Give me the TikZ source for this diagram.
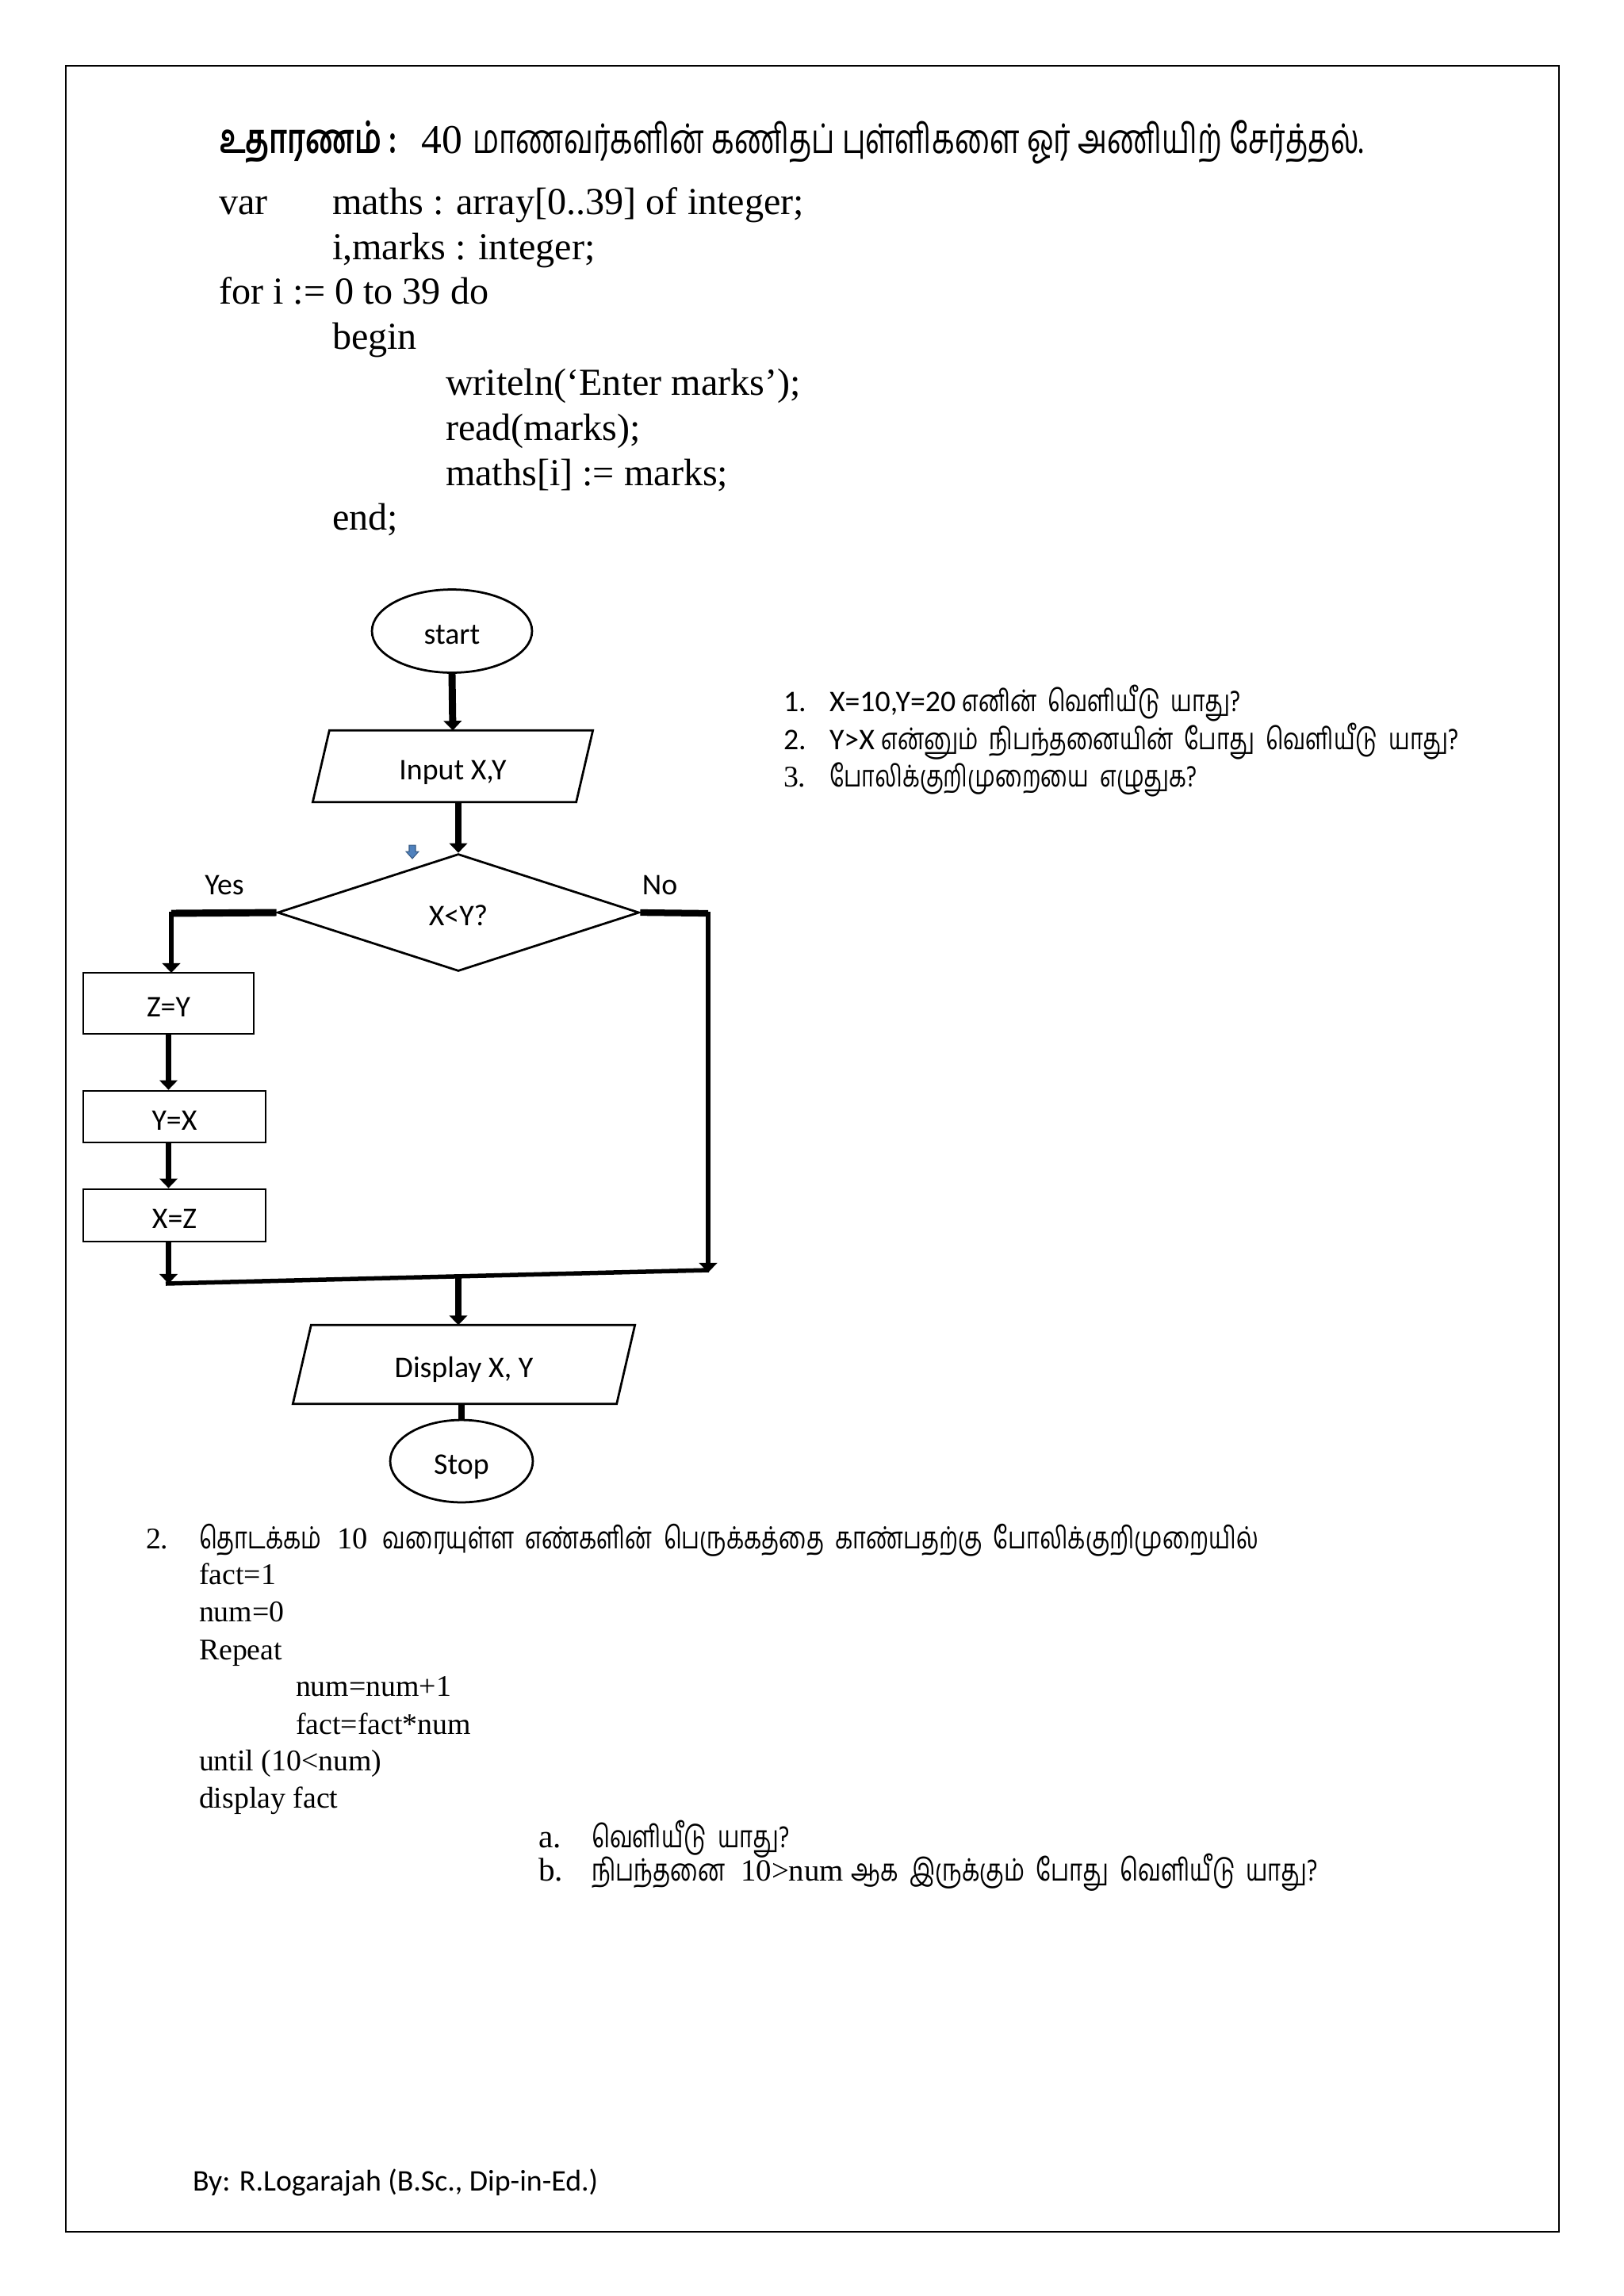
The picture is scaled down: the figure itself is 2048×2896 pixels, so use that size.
\documentclass[tikz,border=0pt]{standalone}
\usepackage{fontspec}
\setmainfont{Liberation Serif}
\newfontfamily\calfont{Carlito}
\newfontfamily\tamil[Script=Tamil, FakeStretch=0.75]{Hind Madurai}
\newfontfamily\tamiltitle[Script=Tamil, FakeStretch=0.72]{Hind Madurai}
\usetikzlibrary{shapes.geometric,arrows.meta,calc}
\definecolor{bluearr}{RGB}{79,129,189}
\begin{document}
\begin{tikzpicture}[x=0.2907pt,y=-0.2907pt,
  txt/.style={anchor=base west, inner sep=0pt, outer sep=0pt},
  code/.style={txt, font=\fontsize{14}{16}\selectfont},
  body/.style={txt, font=\fontsize{11}{13}\selectfont},
  cal/.style={txt, font=\calfont\fontsize{11}{13}\selectfont},
  fbox/.style={draw, line width=0.8pt, font=\calfont\fontsize{11}{13}\selectfont, inner sep=0pt, text height=9.6pt, text depth=0pt},
  term/.style={fbox, ellipse},
  proc/.style={fbox, rectangle},
  para/.style={inner sep=0pt, font=\calfont\fontsize{11}{13}\selectfont, text height=9.6pt, text depth=0pt},
  conn/.style={line width=2.6pt, -{Triangle[length=3.5pt,width=6.5pt]}},
  thin/.style={line width=2pt, -{Triangle[length=3.5pt,width=6.5pt]}},
  flow/.style={line width=2.2pt, line join=miter},
]
\useasboundingbox (0,0) rectangle (2048,2896);
\draw[line width=0.6pt] (83,83) rectangle (1966,2815);

% title
\node[txt, font=\fontsize{15}{17}\selectfont] (title) at (277,193)
  {{\tamiltitle\bfseries உதாரணம் :}\hspace{9pt}40 {\tamiltitle மாணவர்களின் கணிதப் புள்ளிகளை ஓர் அணியிற் சேர்த்தல்.}};

% code block
\node[code] (c1a) at (276,270) {var};
\node[code] (c1b) at (419,270) {maths : array[0..39] of integer;};
\node[code] (c2) at (419,327) {i,marks : integer;};
\node[code] (c3) at (276,383) {for i := 0 to 39 do};
\node[code] (c4) at (419,440) {begin};
\node[code] (c5) at (562,498) {writeln(‘Enter marks’);};
\node[code] (c6) at (562,555) {read(marks);};
\node[code] (c7) at (562,612) {maths[i] := marks;};
\node[code] (c8) at (419,668) {end;};

% flowchart
\node[term, minimum width=58.7pt, minimum height=30.5pt] (start) at (570,796) {start};
\node[para, minimum width=102.3pt, minimum height=25.9pt] (inp) at (571,966.5) {Input X,Y};
\draw[line width=0.8pt] ($(inp.north west)+(21,0)$) -- (inp.north east) -- ($(inp.south east)-(21,0)$) -- (inp.south west) -- cycle;
\node[fbox, diamond, minimum width=132.6pt, minimum height=43pt] (dia) at (578,1151) {X<Y?};
\node[proc, minimum width=62.5pt, minimum height=22.4pt] (zy) at (212.5,1265.5) {Z=Y};
\node[proc, minimum width=66.9pt, minimum height=18.9pt] (yx) at (220,1408.5) {Y=X};
\node[proc, minimum width=66.9pt, minimum height=19.2pt] (xz) at (220,1533) {X=Z};
\node[para, minimum width=125pt, minimum height=28.5pt] (disp) at (585,1721) {Display X, Y};
\draw[line width=0.8pt] ($(disp.north west)+(23,0)$) -- (disp.north east) -- ($(disp.south east)-(23,0)$) -- (disp.south west) -- cycle;
\node[term, minimum width=52.3pt, minimum height=30.2pt] (stop) at (582,1843) {Stop};

\node[txt, font=\calfont\fontsize{11}{13}\selectfont, anchor=base] (yes) at (283,1128) {Yes};
\node[txt, font=\calfont\fontsize{11}{13}\selectfont, anchor=base] (no) at (832,1128) {No};

\coordinate (nc) at (893,1152);
\coordinate (ne) at (893,1605);
\coordinate (mL) at (209,1619);
\coordinate (mR) at (894,1602);
\coordinate (mM) at (578,1611);

\draw[conn] (start.south) -- (inp.north);
\draw[conn] (dia.north |- inp.south) -- (dia.north);
\draw[flow, line width=2.6pt] (dia.west) -- (216,1152);
\draw[thin] (216,1150) -- (216,1227);
\draw[flow, line width=2.4pt] (dia.east) -- (nc);
\draw[thin] ($(nc)+(0,-2)$) -- (ne);
\draw[thin] (zy.south) -- (zy.south |- yx.north);
\draw[thin] (zy.south |- yx.south) -- (zy.south |- xz.north);
\draw[thin] (zy.south |- xz.south) -- (mL -| zy.south);
\draw[line width=1.6pt] (mL) -- (mR);
\draw[conn] (mM) -- (mM |- disp.north);
\draw[line width=2.6pt] (disp.south -| stop.north) -- (stop.north);

% small blue marker
\draw[fill=bluearr, draw=bluearr!70!black, line width=0.3pt]
  (516,1066) -- (524,1066) -- (524,1074) -- (528,1074) -- (520,1083) -- (512,1074) -- (516,1074) -- cycle;

% questions right
\node[cal] (q1n) at (988,897) {1.};
\node[cal] (q1) at (1046,897) {X=10,Y=20 {\tamil எனின்\ \ வெளியீடு\ \ யாது?}};
\node[cal] (q2n) at (988,945) {2.};
\node[cal] (q2) at (1046,945) {Y>X {\tamil என்னும்\ \ நிபந்தனையின்\ \ போது\ \ வெளியீடு\ \ யாது?}};
\node[txt, font=\fontsize{11}{13}\selectfont] (q3n) at (988,992) {3.};
\node[txt, font=\fontsize{11}{13}\selectfont] (q3) at (1046,992) {\tamil போலிக்குறிமுறையை\ \ எழுதுக?};

% section 2
\node[body] (s2n) at (184,1953) {2.};
\node[body, font=\fontsize{11.2}{13}\selectfont] (s2) at (251,1953) {{\tamil தொடக்கம்}\ \ 10\ \ {\tamil வரையுள்ள\ \ எண்களின்\ \ பெருக்கத்தை\ \ காண்பதற்கு\ \ போலிக்குறிமுறையில்}};
\node[body] (p1) at (251,1998) {fact=1};
\node[body] (p2) at (251,2045) {num=0};
\node[body] (p3) at (251,2093) {Repeat};
\node[body] (p4) at (373,2139) {num=num+1};
\node[body] (p5) at (373,2187) {fact=fact*num};
\node[body] (p6) at (251,2233) {until (10<num)};
\node[body] (p7) at (251,2280) {display fact};
\node[body, font=\fontsize{12}{14}\selectfont] (an) at (679,2330) {a.};
\node[body, font=\fontsize{11.3}{14}\selectfont] (a) at (746,2330) {\tamil வெளியீடு\ \ யாது?};
\node[body, font=\fontsize{12}{14}\selectfont] (bn) at (679,2372) {b.};
\node[body, font=\fontsize{11.3}{14}\selectfont] (b) at (746,2372) {{\tamil நிபந்தனை}\ \ 10>num {\tamil ஆக\ \ இருக்கும்\ \ போது\ \ வெளியீடு\ \ யாது?}};

% footer
\node[cal] (foot) at (243,2763) {By: R.Logarajah (B.Sc., Dip-in-Ed.)};
\end{tikzpicture}
\end{document}
